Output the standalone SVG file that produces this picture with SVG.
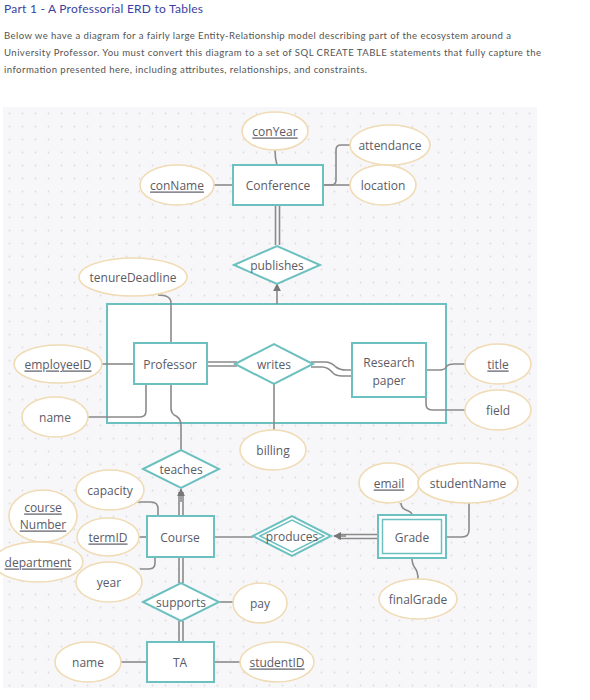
<svg xmlns="http://www.w3.org/2000/svg" width="590" height="700" viewBox="0 0 590 700">
<defs>
<pattern id="dots" x="3" y="107" width="13" height="13" patternUnits="userSpaceOnUse">
<circle cx="6.5" cy="6.5" r="0.9" fill="#dcdce2"/>
</pattern>
<marker id="arr" viewBox="0 0 10 10" refX="9" refY="5" markerWidth="8" markerHeight="8" markerUnits="userSpaceOnUse" orient="auto">
<path d="M0,0 L10,5 L0,10 Z" fill="#777"/>
</marker>
<style>
.hdr{font-family:Lato,"Open Sans","Liberation Sans",sans-serif}
.para{font-size:9.6px;fill:#555}
.lbl{font-family:"Open Sans","Noto Sans","Liberation Sans",sans-serif;font-size:12px;fill:#5b5b66;text-anchor:middle;dominant-baseline:central}
.u{text-decoration:underline}
.ent{fill:#fff;stroke:#6cc0c0;stroke-width:2}
.att{fill:#fff;stroke:#f0dbb4;stroke-width:1.6}
.rel{fill:#fff;stroke:#6cc0c0;stroke-width:2}
.c{fill:none;stroke:#8a8a8a;stroke-width:1.6}
</style>
</defs>
<rect x="0" y="0" width="590" height="700" fill="#fff"/>
<text class="hdr" x="4" y="13" font-size="12" fill="#3a3fa0" textLength="199">Part 1 -  A Professorial ERD to Tables</text>
<text class="hdr para" x="4" y="39" textLength="507">Below we have a diagram for a fairly large Entity-Relationship model describing part of the ecosystem around a</text>
<text class="hdr para" x="4" y="56" textLength="537">University Professor. You must convert this diagram to a set of SQL CREATE TABLE statements that fully capture the</text>
<text class="hdr para" x="4" y="73" textLength="363">information presented here, including attributes, relationships, and constraints.</text>

<rect x="3" y="107" width="534" height="581" fill="#f7f7f9"/>
<rect x="3" y="107" width="534" height="581" fill="url(#dots)"/>

<g id="aggregation">
<rect x="107" y="304" width="339" height="119" fill="#fff" stroke="#6cc0c0" stroke-width="2"/>
</g>

<g id="connectors">
<path class="c" d="M275,150 Q275,158 277,165"/>
<path class="c" d="M213,185 H233"/>
<path class="c" d="M323,185 H350"/>
<path class="c" d="M323,185 H331 Q336,185 336,180 V150 Q336,145 341,145 H350"/>
<path class="c" d="M275.5,205 V245 M279.5,205 V245"/>
<path class="c" d="M277,304 V284" marker-end="url(#arr)"/>
<path class="c" d="M158,295 Q171,295 171,303 V343"/>
<path class="c" d="M102,364 H134"/>
<path class="c" d="M88,417 H140 Q146,417 146,411 V384"/>
<path class="c" d="M207,362 H237 M207,366 H237"/>
<path class="c" d="M311,362 H325 Q331,362 336,367 Q340,370 346,370 H352 M311,367 H322 Q328,367 333,373 Q336,376 342,376 H352"/>
<path class="c" d="M426,370 H440 Q445,370 447,366 Q449,364 454,364 H465"/>
<path class="c" d="M426,397 V404 Q426,410 432,410 H465"/>
<path class="c" d="M274,384 V430"/>
<path class="c" d="M171,384 V408 Q171,414 176,416 Q181,419 181,425 V450"/>
<path class="c" d="M179,516 V492 M183,516 V492"/>
<path class="c" d="M181,502 V489" marker-end="url(#arr)"/>
<path class="c" d="M136,502 H151 Q158,502 158,509 V516"/>
<path class="c" d="M139,537 H147"/>
<path class="c" d="M140,569 H149 Q155,569 155,563 V557"/>
<path class="c" d="M214,537 H253"/>
<path class="c" d="M378,534.5 H338 M378,538.5 H338"/>
<path class="c" d="M346,536 H334" marker-end="url(#arr)"/>
<path class="c" d="M401,503 Q401,508 406,510 Q412,512 412,515"/>
<path class="c" d="M469,503 V530 Q469,537 462,537 H446"/>
<path class="c" d="M412,558 Q412,564 415,568 Q418,572 418,579"/>
<path class="c" d="M179,557 V583 M183,557 V583"/>
<path class="c" d="M220,602 H233"/>
<path class="c" d="M179,621 V642 M183,621 V642"/>
<path class="c" d="M120,662 H147"/>
<path class="c" d="M214,662 H240"/>
</g>

<g id="conYear"><ellipse class="att" cx="275" cy="131" rx="33" ry="19"/><text class="lbl u" x="275" y="131">conYear</text></g>
<g id="conName"><ellipse class="att" cx="177" cy="185" rx="37" ry="20"/><text class="lbl u" x="177" y="185">conName</text></g>
<g id="Conference"><rect class="ent" x="233" y="165" width="90" height="40"/><text class="lbl" x="278" y="185">Conference</text></g>
<g id="attendance"><ellipse class="att" cx="390" cy="145" rx="40" ry="20"/><text class="lbl" x="390" y="145">attendance</text></g>
<g id="location"><ellipse class="att" cx="383" cy="185" rx="33" ry="20"/><text class="lbl" x="383" y="185">location</text></g>
<g id="publishes"><polygon class="rel" points="234,265 277,246 320,265 277,284"/><text class="lbl" x="277" y="265">publishes</text></g>
<g id="tenureDeadline"><ellipse class="att" cx="133" cy="277" rx="54" ry="19"/><text class="lbl" x="133" y="277">tenureDeadline</text></g>
<g id="employeeID"><ellipse class="att" cx="58" cy="364" rx="44" ry="19"/><text class="lbl u" x="58" y="364">employeeID</text></g>
<g id="Professor"><rect class="ent" x="134" y="343" width="73" height="41"/><text class="lbl" x="170" y="364">Professor</text></g>
<g id="profName"><ellipse class="att" cx="55" cy="417" rx="33" ry="20"/><text class="lbl" x="55" y="417">name</text></g>
<g id="writes"><polygon class="rel" points="235,364 274,344 313,364 274,384"/><text class="lbl" x="274" y="364">writes</text></g>
<g id="ResearchPaper"><rect class="ent" x="352" y="343" width="74" height="54"/><text class="lbl" x="389" y="362">Research</text><text class="lbl" x="389" y="380">paper</text></g>
<g id="title"><ellipse class="att" cx="498" cy="364" rx="33" ry="20"/><text class="lbl u" x="498" y="364">title</text></g>
<g id="field"><ellipse class="att" cx="498" cy="410" rx="33" ry="20"/><text class="lbl" x="498" y="410">field</text></g>
<g id="billing"><ellipse class="att" cx="273" cy="450" rx="33" ry="20"/><text class="lbl" x="273" y="450">billing</text></g>
<g id="teaches"><polygon class="rel" points="143,469 181,450 219,469 181,488"/><text class="lbl" x="181" y="469">teaches</text></g>
<g id="capacity"><ellipse class="att" cx="110" cy="490" rx="34" ry="20"/><text class="lbl" x="110" y="490">capacity</text></g>
<g id="courseNumber"><ellipse class="att" cx="43" cy="516" rx="34" ry="26"/><text class="lbl u" x="43" y="507">course</text><text class="lbl u" x="43" y="524">Number</text></g>
<g id="termID"><ellipse class="att" cx="108" cy="537" rx="31" ry="19"/><text class="lbl u" x="108" y="537">termID</text></g>
<g id="department"><ellipse class="att" cx="38" cy="562" rx="45" ry="20"/><text class="lbl u" x="38" y="562">department</text></g>
<g id="year"><ellipse class="att" cx="109" cy="582" rx="33" ry="20"/><text class="lbl" x="109" y="582">year</text></g>
<g id="Course"><rect class="ent" x="147" y="516" width="67" height="41"/><text class="lbl" x="180" y="537">Course</text></g>
<g id="produces"><polygon class="rel" points="253,536 292,516 331,536 292,556"/><polygon fill="none" stroke="#6cc0c0" stroke-width="1.5" points="260,536 292,520 324,536 292,552"/><text class="lbl" x="292" y="536">produces</text></g>
<g id="Grade"><rect class="ent" x="378" y="515" width="68" height="43"/><rect fill="none" stroke="#6cc0c0" stroke-width="1.5" x="382.5" y="519.5" width="59" height="34"/><text class="lbl" x="412" y="537">Grade</text></g>
<g id="email"><ellipse class="att" cx="389" cy="483" rx="30" ry="20"/><text class="lbl u" x="389" y="483">email</text></g>
<g id="studentName"><ellipse class="att" cx="468" cy="483" rx="50" ry="20"/><text class="lbl" x="468" y="483">studentName</text></g>
<g id="finalGrade"><ellipse class="att" cx="418" cy="599" rx="39" ry="20"/><text class="lbl" x="418" y="599">finalGrade</text></g>
<g id="supports"><polygon class="rel" points="143,602 181,583 219,602 181,621"/><text class="lbl" x="181" y="602">supports</text></g>
<g id="pay"><ellipse class="att" cx="260" cy="603" rx="27" ry="20"/><text class="lbl" x="260" y="603">pay</text></g>
<g id="TA"><rect class="ent" x="147" y="642" width="67" height="40"/><text class="lbl" x="180" y="662">TA</text></g>
<g id="taName"><ellipse class="att" cx="88" cy="662" rx="33" ry="20"/><text class="lbl" x="88" y="662">name</text></g>
<g id="studentID"><ellipse class="att" cx="277" cy="662" rx="37" ry="20"/><text class="lbl u" x="277" y="662">studentID</text></g>
</svg>
